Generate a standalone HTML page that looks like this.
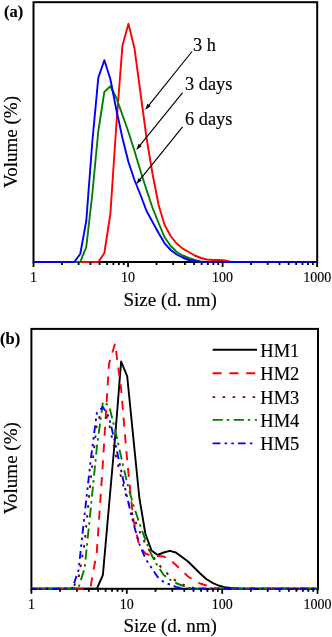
<!DOCTYPE html>
<html><head><meta charset="utf-8"><style>
html,body{margin:0;padding:0;background:#fff;}
svg{display:block;}
.c{fill:none;stroke-width:1.9;stroke-linejoin:round;stroke-linecap:butt;}
.fr{fill:none;stroke:#000;stroke-width:2;}
.ax{stroke:#000;stroke-width:1.8;}
.ar{stroke:#000;stroke-width:1.15;}
text{font-family:"Liberation Serif",serif;fill:#000;}
.tl{font-size:14px;text-anchor:middle;}
.tt{font-size:19px;text-anchor:middle;}
.ann{font-size:18.3px;}
.leg{font-size:18.5px;}
text{stroke:#000;stroke-width:0.15px;}
.lab{font-size:16.5px;font-weight:bold;}
</style></head><body>
<svg width="332" height="637" viewBox="0 0 332 637">
<rect width="332" height="637" fill="#fff"/>
<rect x="33.5" y="2.2" width="283.70" height="259.80" class="fr"/>
<rect x="31.4" y="328.9" width="286.60" height="259.90" class="fr"/>
<path d="M33.50,262.00 L98.32,262.00 L104.35,253.00 L110.38,214.00 L116.40,124.00 L122.43,45.80 L128.46,23.80 L134.48,48.30 L140.51,93.00 L146.54,138.00 L152.56,174.00 L158.59,205.00 L164.62,225.00 L170.64,236.00 L176.67,243.50 L182.69,248.60 L188.72,252.00 L194.75,255.50 L200.77,258.00 L206.80,259.50 L212.83,260.00 L218.85,260.00 L224.88,260.50 L230.91,262.00 L317.20,262.00" stroke="#ff0000" class="c"/>
<path d="M33.50,262.00 L80.25,262.00 L86.27,247.00 L92.30,194.00 L98.32,131.00 L104.35,91.90 L110.38,86.20 L116.40,98.00 L122.43,115.00 L128.46,132.00 L134.48,151.00 L140.51,171.00 L146.54,190.00 L152.56,208.00 L158.59,223.00 L164.62,237.30 L170.64,246.00 L176.67,252.00 L182.69,255.50 L188.72,258.00 L194.75,260.00 L200.77,261.50 L206.80,262.00 L317.20,262.00" stroke="#008000" class="c"/>
<path d="M33.50,262.00 L74.22,262.00 L80.25,254.00 L86.27,221.00 L92.30,142.00 L98.32,77.60 L104.35,60.20 L110.38,79.30 L116.40,110.00 L122.43,138.00 L128.46,162.00 L134.48,180.00 L140.51,195.00 L146.54,211.00 L152.56,222.00 L158.59,233.00 L164.62,243.30 L170.64,250.00 L176.67,254.50 L182.69,257.50 L188.72,260.00 L194.75,261.00 L200.77,262.00 L317.20,262.00" stroke="#0000ff" class="c"/>
<line x1="33.50" y1="262.0" x2="33.50" y2="267.0" class="ax"/>
<line x1="61.96" y1="262.0" x2="61.96" y2="265.0" class="ax"/>
<line x1="78.61" y1="262.0" x2="78.61" y2="265.0" class="ax"/>
<line x1="90.42" y1="262.0" x2="90.42" y2="265.0" class="ax"/>
<line x1="99.59" y1="262.0" x2="99.59" y2="265.0" class="ax"/>
<line x1="107.07" y1="262.0" x2="107.07" y2="265.0" class="ax"/>
<line x1="113.40" y1="262.0" x2="113.40" y2="265.0" class="ax"/>
<line x1="118.89" y1="262.0" x2="118.89" y2="265.0" class="ax"/>
<line x1="123.72" y1="262.0" x2="123.72" y2="265.0" class="ax"/>
<line x1="128.05" y1="262.0" x2="128.05" y2="267.0" class="ax"/>
<line x1="156.51" y1="262.0" x2="156.51" y2="265.0" class="ax"/>
<line x1="173.16" y1="262.0" x2="173.16" y2="265.0" class="ax"/>
<line x1="184.97" y1="262.0" x2="184.97" y2="265.0" class="ax"/>
<line x1="194.14" y1="262.0" x2="194.14" y2="265.0" class="ax"/>
<line x1="201.62" y1="262.0" x2="201.62" y2="265.0" class="ax"/>
<line x1="207.95" y1="262.0" x2="207.95" y2="265.0" class="ax"/>
<line x1="213.44" y1="262.0" x2="213.44" y2="265.0" class="ax"/>
<line x1="218.27" y1="262.0" x2="218.27" y2="265.0" class="ax"/>
<line x1="222.60" y1="262.0" x2="222.60" y2="267.0" class="ax"/>
<line x1="251.06" y1="262.0" x2="251.06" y2="265.0" class="ax"/>
<line x1="267.71" y1="262.0" x2="267.71" y2="265.0" class="ax"/>
<line x1="279.52" y1="262.0" x2="279.52" y2="265.0" class="ax"/>
<line x1="288.69" y1="262.0" x2="288.69" y2="265.0" class="ax"/>
<line x1="296.17" y1="262.0" x2="296.17" y2="265.0" class="ax"/>
<line x1="302.50" y1="262.0" x2="302.50" y2="265.0" class="ax"/>
<line x1="307.99" y1="262.0" x2="307.99" y2="265.0" class="ax"/>
<line x1="312.82" y1="262.0" x2="312.82" y2="265.0" class="ax"/>
<line x1="317.15" y1="262.0" x2="317.15" y2="267.0" class="ax"/>
<text x="33.50" y="282.1" class="tl">1</text>
<text x="128.05" y="282.1" class="tl">10</text>
<text x="222.60" y="282.1" class="tl">100</text>
<text x="317.15" y="282.1" class="tl">1000</text>
<text x="170.2" y="305.6" class="tt">Size (d. nm)</text>
<text x="0" y="0" class="tt" transform="translate(17,142) rotate(-90)">Volume (%)</text>
<text x="4" y="17.4" class="lab">(a)</text>
<line x1="192" y1="51.5" x2="148.42" y2="105.77" class="ar"/><polygon points="145.10,109.90 147.49,103.74 150.60,106.24" fill="#000"/>
<line x1="182.6" y1="92.6" x2="139.53" y2="145.88" class="ar"/><polygon points="136.20,150.00 138.61,143.84 141.72,146.36" fill="#000"/>
<line x1="182.6" y1="126.8" x2="139.53" y2="180.08" class="ar"/><polygon points="136.20,184.20 138.61,178.04 141.72,180.56" fill="#000"/>
<text x="193" y="50.7" class="ann">3 h</text>
<text x="185.1" y="90.1" class="ann">3 days</text>
<text x="185.1" y="125.2" class="ann">6 days</text>
<path d="M31.40,588.80 L96.81,588.80 L102.89,575.00 L108.97,506.00 L115.05,438.00 L121.13,361.50 L127.21,376.40 L133.29,437.50 L139.37,498.00 L145.45,534.00 L151.53,550.50 L157.61,555.00 L163.69,552.50 L169.77,550.80 L175.86,552.50 L181.94,557.00 L188.02,561.50 L194.10,567.50 L200.18,573.50 L206.26,579.00 L212.34,582.80 L218.42,585.50 L224.50,587.20 L230.58,588.00 L236.66,588.40 L242.74,588.80 L318.00,588.80" stroke="#000" class="c"/>
<path d="M31.40,588.80 L84.65,588.80 L90.73,586.00 L96.81,552.00 L102.89,463.00 L108.97,364.00 L115.05,343.50 L121.13,389.00 L127.21,461.00 L133.29,519.50 L139.37,546.00 L145.45,553.50 L151.53,556.00 L157.61,556.00 L163.69,556.50 L169.77,559.50 L175.86,565.00 L181.94,570.50 L188.02,576.50 L194.10,580.50 L200.18,583.50 L206.26,585.50 L212.34,587.20 L218.42,588.50 L224.50,588.80 L318.00,588.80" stroke="#ff0000" class="c" stroke-dasharray="9 7.8" stroke-dashoffset="7.44"/>
<path d="M31.40,588.80 L66.40,588.80 L72.48,588.50 L78.57,578.00 L84.65,543.00 L90.73,479.50 L96.81,424.00 L102.89,408.00 L108.97,423.00 L115.05,452.50 L121.13,477.50 L127.21,500.00 L133.29,516.50 L139.37,531.00 L145.45,544.00 L151.53,554.00 L157.61,563.50 L163.69,570.00 L169.77,576.00 L175.86,581.00 L181.94,584.30 L188.02,586.50 L194.10,588.00 L200.18,588.80 L318.00,588.80" stroke="#800000" class="c" stroke-dasharray="2.6 7.4" stroke-dashoffset="5.81"/>
<path d="M31.40,588.80 L72.48,588.80 L78.57,587.50 L84.65,568.00 L90.73,508.50 L96.81,448.00 L102.89,402.00 L108.97,405.50 L115.05,429.50 L121.13,457.00 L127.21,483.00 L133.29,505.00 L139.37,523.00 L145.45,540.00 L151.53,555.00 L157.61,566.00 L163.69,575.00 L169.77,579.50 L175.86,583.00 L181.94,585.50 L188.02,587.50 L194.10,588.50 L200.18,588.80 L318.00,588.80" stroke="#008000" class="c" stroke-dasharray="10.2 3.9 2.5 4.5" stroke-dashoffset="8.26"/>
<path d="M31.40,588.80 L66.40,588.80 L72.48,588.00 L78.57,570.00 L84.65,514.00 L90.73,460.00 L96.81,413.00 L102.89,407.00 L108.97,417.00 L115.05,442.50 L121.13,470.50 L127.21,497.50 L133.29,523.00 L139.37,544.00 L145.45,558.50 L151.53,568.00 L157.61,577.00 L163.69,582.00 L169.77,584.50 L175.86,586.80 L181.94,588.30 L188.02,588.80 L318.00,588.80" stroke="#0000ff" class="c" stroke-dasharray="7.8 4.2 2.5 4.2 2.5 4.1" stroke-dashoffset="4.46"/>
<line x1="31.40" y1="588.8" x2="31.40" y2="593.8" class="ax"/>
<line x1="60.12" y1="588.8" x2="60.12" y2="591.8" class="ax"/>
<line x1="76.92" y1="588.8" x2="76.92" y2="591.8" class="ax"/>
<line x1="88.84" y1="588.8" x2="88.84" y2="591.8" class="ax"/>
<line x1="98.08" y1="588.8" x2="98.08" y2="591.8" class="ax"/>
<line x1="105.64" y1="588.8" x2="105.64" y2="591.8" class="ax"/>
<line x1="112.02" y1="588.8" x2="112.02" y2="591.8" class="ax"/>
<line x1="117.55" y1="588.8" x2="117.55" y2="591.8" class="ax"/>
<line x1="122.43" y1="588.8" x2="122.43" y2="591.8" class="ax"/>
<line x1="126.80" y1="588.8" x2="126.80" y2="593.8" class="ax"/>
<line x1="155.52" y1="588.8" x2="155.52" y2="591.8" class="ax"/>
<line x1="172.32" y1="588.8" x2="172.32" y2="591.8" class="ax"/>
<line x1="184.24" y1="588.8" x2="184.24" y2="591.8" class="ax"/>
<line x1="193.48" y1="588.8" x2="193.48" y2="591.8" class="ax"/>
<line x1="201.04" y1="588.8" x2="201.04" y2="591.8" class="ax"/>
<line x1="207.42" y1="588.8" x2="207.42" y2="591.8" class="ax"/>
<line x1="212.95" y1="588.8" x2="212.95" y2="591.8" class="ax"/>
<line x1="217.83" y1="588.8" x2="217.83" y2="591.8" class="ax"/>
<line x1="222.20" y1="588.8" x2="222.20" y2="593.8" class="ax"/>
<line x1="250.92" y1="588.8" x2="250.92" y2="591.8" class="ax"/>
<line x1="267.72" y1="588.8" x2="267.72" y2="591.8" class="ax"/>
<line x1="279.64" y1="588.8" x2="279.64" y2="591.8" class="ax"/>
<line x1="288.88" y1="588.8" x2="288.88" y2="591.8" class="ax"/>
<line x1="296.44" y1="588.8" x2="296.44" y2="591.8" class="ax"/>
<line x1="302.82" y1="588.8" x2="302.82" y2="591.8" class="ax"/>
<line x1="308.35" y1="588.8" x2="308.35" y2="591.8" class="ax"/>
<line x1="313.23" y1="588.8" x2="313.23" y2="591.8" class="ax"/>
<line x1="317.60" y1="588.8" x2="317.60" y2="593.8" class="ax"/>
<text x="31.40" y="608.9" class="tl">1</text>
<text x="126.80" y="608.9" class="tl">10</text>
<text x="222.20" y="608.9" class="tl">100</text>
<text x="317.60" y="608.9" class="tl">1000</text>
<text x="170.2" y="632" class="tt">Size (d. nm)</text>
<text x="0" y="0" class="tt" transform="translate(17,468.2) rotate(-90)">Volume (%)</text>
<text x="0.1" y="344" class="lab">(b)</text>
<line x1="212.6" y1="349.8" x2="257" y2="349.8" stroke="#000" class="c"/>
<text x="260.3" y="356.8" class="ann leg">HM1</text>
<line x1="212.6" y1="373.3" x2="257" y2="373.3" stroke="#ff0000" class="c" stroke-dasharray="9 7.8"/>
<text x="260.3" y="380.3" class="ann leg">HM2</text>
<line x1="212.6" y1="397.1" x2="257" y2="397.1" stroke="#800000" class="c" stroke-dasharray="2.6 7.4"/>
<text x="260.3" y="404.1" class="ann leg">HM3</text>
<line x1="212.6" y1="419.9" x2="257" y2="419.9" stroke="#008000" class="c" stroke-dasharray="10.2 3.9 2.5 4.5"/>
<text x="260.3" y="426.9" class="ann leg">HM4</text>
<line x1="212.6" y1="443.4" x2="253.5" y2="443.4" stroke="#0000ff" class="c" stroke-dasharray="7.8 4.2 2.5 4.2 2.5 4.1"/>
<text x="260.3" y="450.4" class="ann leg">HM5</text>
</svg>
</body></html>
